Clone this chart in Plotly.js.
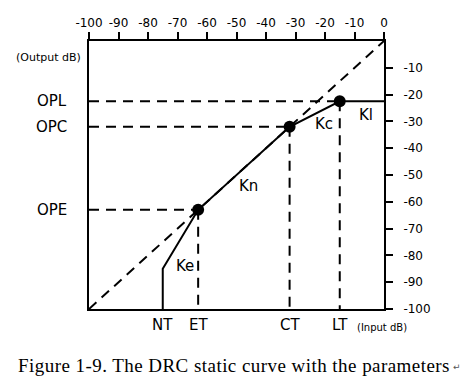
<!DOCTYPE html>
<html>
<head>
<meta charset="utf-8">
<script src="https://cdn.plot.ly/plotly-3.0.1.min.js"></script>
<style>html,body{margin:0;padding:0;background:#fff;}#chart{width:476px;height:389px;}</style>
</head>
<body>
<div id="chart"></div>
<script>
// Static DRC curve (input dB -> output dB)
var curveIn  = [-75, -75, -63, -32, -15, 0];
var curveOut = [-100, -85, -63, -32, -22.5, -22.5];
// knee points: ET/OPE, CT/OPC, LT/OPL
var kneeIn  = [-63, -32, -15];
var kneeOut = [-63, -32, -22.5];
var kneeInLabels  = ['ET', 'CT', 'LT'];
var kneeOutLabels = ['OPE', 'OPC', 'OPL'];
var noiseIn = -75; var noiseLabel = 'NT';
var axisMin = -100, axisMax = 0;
var xTicks = [-100, -90, -80, -70, -60, -50, -40, -30, -20, -10, 0];
var xTickText = ['-100', '-90', '-80', '-70', '-60', '-50', '-40', '-30', '-20', '-10', '0'];
var yTicks = [-10, -20, -30, -40, -50, -60, -70, -80, -90, -100];
var yTickText = ['-10', '-20', '-30', '-40', '-50', '-60', '-70', '-80', '-90', '-100'];
var slopeLabels = ['Ke', 'Kn', 'Kc', 'Kl'];
var slopeLabelX = [-67.5, -46, -20.5, -6];
var slopeLabelY = [-84, -54, -31, -27.5];
var caption = 'Figure 1-9. The DRC static curve with the parameters';

// guide lines built from the knee arrays
var gx = [], gy = [];
for (var i = 0; i < kneeIn.length; i++) {
  gx.push(axisMin, kneeIn[i], null, kneeIn[i], kneeIn[i], null);
  gy.push(kneeOut[i], kneeOut[i], null, kneeOut[i], axisMin, null);
}
gx.push(axisMin, axisMax); gy.push(axisMin, axisMax);

var traces = [
  {x: gx, y: gy, mode: 'lines', line: {color: '#000', width: 2, dash: '10px,7px'}, hoverinfo: 'skip', cliponaxis: false},
  {x: curveIn, y: curveOut, mode: 'lines', line: {color: '#000', width: 2}, cliponaxis: false},
  {x: kneeIn, y: kneeOut, mode: 'markers', marker: {color: '#000', size: 12}, cliponaxis: false}
];

var FONT = 'DejaVu Sans, sans-serif';
var ann = [];
for (var i = 0; i < kneeIn.length; i++) {
  ann.push({x: axisMin, y: kneeOut[i], xref: 'x', yref: 'y', text: kneeOutLabels[i], showarrow: false,
    xanchor: 'right', xshift: -20, font: {family: FONT, size: 15, color: '#000'}});
  ann.push({x: kneeIn[i], y: axisMin, xref: 'x', yref: 'y', text: kneeInLabels[i], showarrow: false,
    yanchor: 'top', yshift: -5, font: {family: FONT, size: 15, color: '#000'}});
}
ann.push({x: noiseIn, y: axisMin, xref: 'x', yref: 'y', text: noiseLabel, showarrow: false,
  yanchor: 'top', yshift: -5, font: {family: FONT, size: 15, color: '#000'}});
for (var j = 0; j < slopeLabels.length; j++) {
  ann.push({x: slopeLabelX[j], y: slopeLabelY[j], xref: 'x', yref: 'y', text: slopeLabels[j], showarrow: false,
    font: {family: FONT, size: 15, color: '#000'}});
}
ann.push({x: axisMin, y: -6, xref: 'x', yref: 'y', text: '(Output dB)', showarrow: false,
  xanchor: 'right', xshift: -6, font: {family: FONT, size: 11, color: '#000'}});
ann.push({x: axisMax, y: axisMin, xref: 'x', yref: 'y', text: '(Input dB)', showarrow: false,
  xanchor: 'left', yanchor: 'top', xshift: -29, yshift: -11, font: {family: FONT, size: 10, color: '#000'}});
ann.push({x: 0, y: 0, xref: 'paper', yref: 'paper', text: caption, showarrow: false,
  xanchor: 'left', yanchor: 'middle', xshift: -72, yshift: -56,
  font: {family: 'Liberation Serif, Times New Roman, serif', size: 19, color: '#000'}});
ann.push({x: 0, y: 0, xref: 'paper', yref: 'paper', text: '\u21B5', showarrow: false,
  xanchor: 'left', yanchor: 'middle', xshift: 362, yshift: -58,
  font: {family: 'DejaVu Sans, sans-serif', size: 9, color: '#555'}});

var layout = {
  width: 476, height: 389,
  margin: {l: 89, r: 92, t: 41, b: 80},
  paper_bgcolor: '#fff', plot_bgcolor: '#fff',
  showlegend: false,
  xaxis: {range: [axisMin, axisMax], side: 'top', tickvals: xTicks, ticktext: xTickText, tickangle: 0,
    ticks: 'outside', ticklen: 7, tickwidth: 2,
    tickcolor: '#000', showline: true, linewidth: 2, linecolor: '#000', mirror: true, showgrid: false, zeroline: false,
    tickfont: {family: FONT, size: 12, color: '#000'}, fixedrange: true},
  yaxis: {range: [axisMin, axisMax], side: 'right', tickvals: yTicks, ticktext: yTickText, ticks: 'outside', ticklen: 7, tickwidth: 2,
    tickcolor: '#000', showline: true, linewidth: 2, linecolor: '#000', mirror: true, showgrid: false, zeroline: false,
    tickfont: {family: FONT, size: 12, color: '#000'}, ticklabelstandoff: 8, fixedrange: true},
  annotations: ann
};
Plotly.newPlot('chart', traces, layout, {staticPlot: true, displayModeBar: false}).then(function (gd) {
  var texts = gd.querySelectorAll('.annotation-text');
  for (var k = 0; k < texts.length; k++) {
    var t = texts[k];
    if (t.textContent !== caption) continue;
    // widen the caption to the reference's spacing and keep its left edge at 18px
    var w0 = t.getBoundingClientRect().width;
    var spacing = Math.max(0, (432 - w0) / caption.length);
    t.style.letterSpacing = spacing.toFixed(2) + 'px';
    var r = t.getBoundingClientRect();
    var x0 = parseFloat(t.getAttribute('x')) || 0;
    t.setAttribute('x', x0 + (18 - r.left));
  }
});
</script>
</body>
</html>
